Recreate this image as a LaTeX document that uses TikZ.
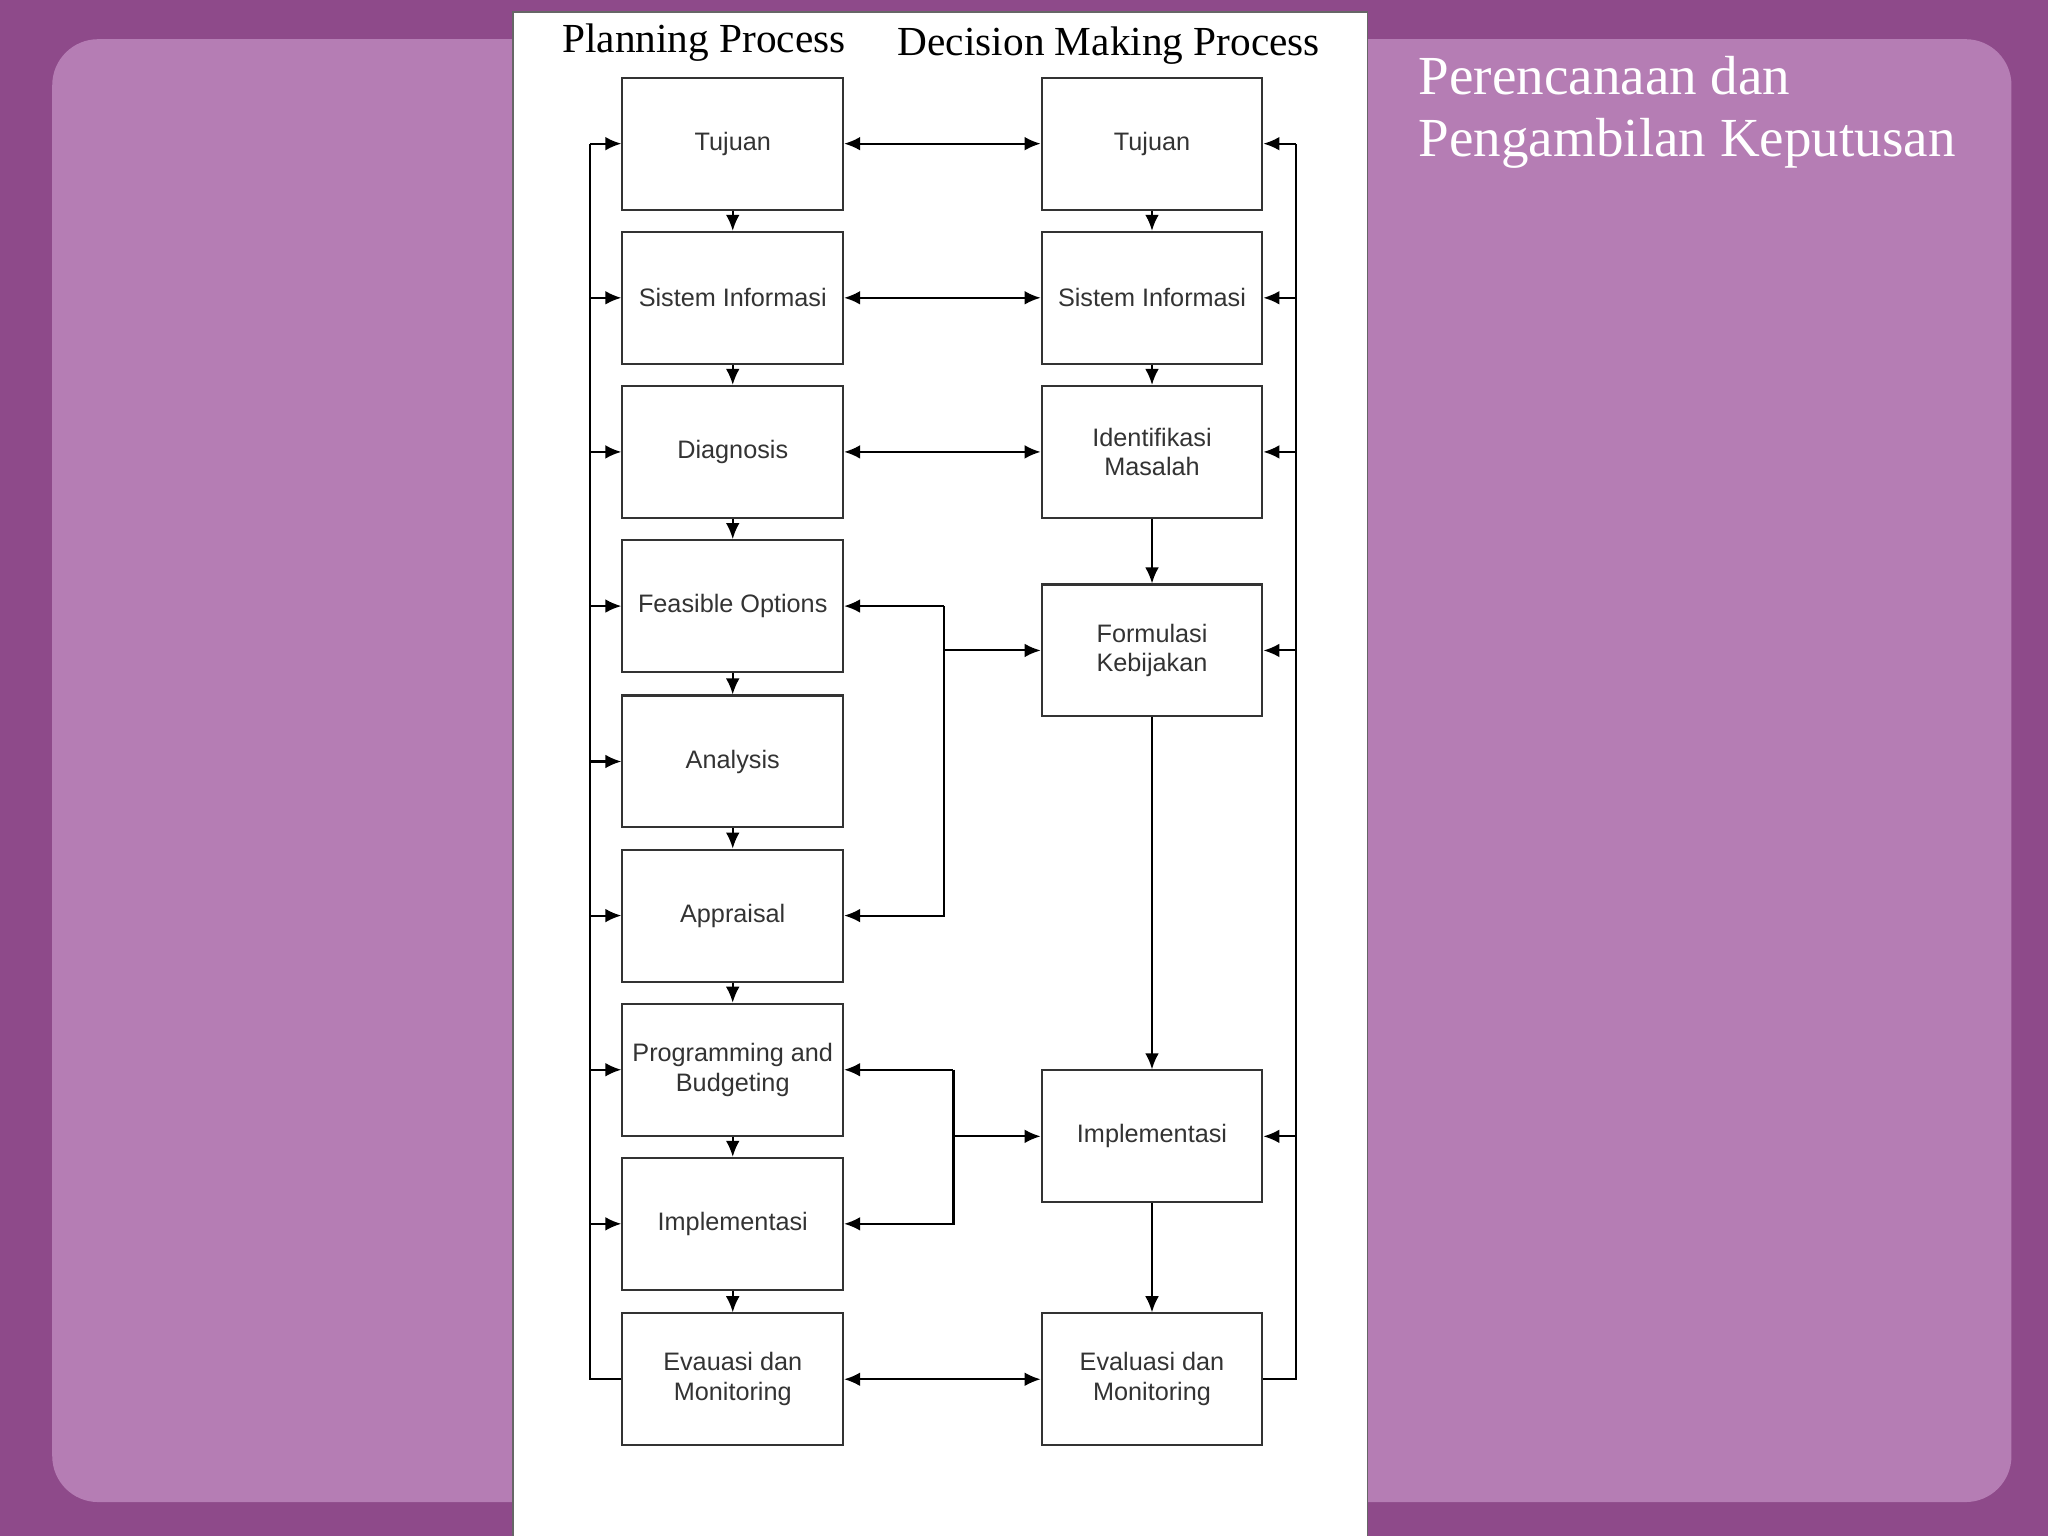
\documentclass[tikz,border=0pt]{standalone}
\usepackage{fontspec}
\setmainfont{Liberation Serif}
\newfontfamily\boxfont{Liberation Sans}
\usetikzlibrary{arrows.meta}
\definecolor{bgdark}{HTML}{8E4A8A}
\definecolor{bglight}{HTML}{B57DB4}
\tikzset{
  x=0.02cm,y=-0.02cm,
  pbox/.style={draw=black!80,line width=0.9pt,minimum width=3.38cm,minimum height=2.02cm,align=center,font=\boxfont\fontsize{11}{13}\selectfont,fill=white,text=black!80},
  arr/.style={-{Latex[length=7pt,width=6pt]},line width=0.9pt},
  darr/.style={{Latex[length=7pt,width=6pt]}-{Latex[length=7pt,width=6pt]},line width=0.9pt},
  ln/.style={line width=0.9pt}
}
\begin{document}
\begin{tikzpicture}
\useasboundingbox (0,0) rectangle (1568,1176);
\fill[bgdark] (0,0) rectangle (1568,1176);
\fill[bglight,rounded corners=20] (40,30) rectangle (1540,1150);
\fill[white] (393,9) rectangle (1047,1176);
\draw[black!60,line width=0.8pt] (393,1176) -- (393,9) -- (1047,9) -- (1047,1176);
\node[font=\fontsize{18}{21}\selectfont] (t1) at (539,33) {Planning Process};
\node[font=\fontsize{18}{21}\selectfont] (t2) at (849,35) {Decision Making Process};
\node[font=\fontsize{24}{27}\selectfont,text=white,align=left,anchor=north west] (rt) at (1080,37) {Perencanaan dan\\Pengambilan Keputusan};
% left boxes
\node[pbox] (l1) at (561,110) {Tujuan};
\node[pbox] (l2) at (561,228) {Sistem Informasi};
\node[pbox] (l3) at (561,346) {Diagnosis};
\node[pbox] (l4) at (561,464) {Feasible Options};
\node[pbox] (l5) at (561,583) {Analysis};
\node[pbox] (l6) at (561,701) {Appraisal};
\node[pbox] (l7) at (561,819) {Programming and\\Budgeting};
\node[pbox] (l8) at (561,937) {Implementasi};
\node[pbox] (l9) at (561,1056) {Evauasi dan\\Monitoring};
% right boxes
\node[pbox] (r1) at (882,110) {Tujuan};
\node[pbox] (r2) at (882,228) {Sistem Informasi};
\node[pbox] (r3) at (882,346) {Identifikasi\\Masalah};
\node[pbox] (r4) at (882,498) {Formulasi\\Kebijakan};
\node[pbox] (r5) at (882,870) {Implementasi};
\node[pbox] (r6) at (882,1056) {Evaluasi dan\\Monitoring};
\foreach \a/\b in {l1/l2,l2/l3,l3/l4,l4/l5,l5/l6,l6/l7,l7/l8,l8/l9,r1/r2,r2/r3,r3/r4,r4/r5,r5/r6}
  \draw[arr] (\a.south) -- (\b.north);
\foreach \a/\b in {l1/r1,l2/r2,l3/r3,l9/r6}
  \draw[darr] (\a.east) -- (\b.west);
% left feedback
\coordinate (lf) at (452,1056);
\draw[ln] (l9.west) -- (lf) -- (452,110);
\foreach \b in {l1,l2,l3,l4,l5,l6,l7,l8}
  \draw[arr] (452,0 |- \b.west) -- (\b.west);
% right feedback
\coordinate (rf) at (992,1056);
\draw[ln] (r6.east) -- (rf) -- (992,110);
\foreach \b in {r1,r2,r3,r4,r5}
  \draw[arr] (992,0 |- \b.east) -- (\b.east);
% brackets
\coordinate (b1) at (723,498);
\draw[arr] (723,464) -- (l4.east);
\draw[arr] (723,464) -- (723,701) -- (l6.east);
\draw[arr] (b1) -- (r4.west);
\coordinate (b2) at (730,870);
\draw[arr] (730,819) -- (l7.east);
\draw[arr] (730,819) -- (730,937) -- (l8.east);
\draw[arr] (b2) -- (r5.west);
\end{tikzpicture}
\end{document}
